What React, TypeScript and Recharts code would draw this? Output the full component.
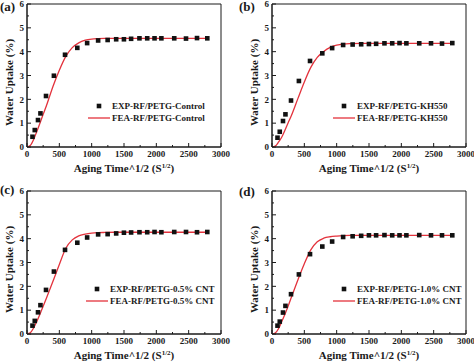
import React from 'react';
import { ComposedChart, Scatter, Line, XAxis, YAxis, ReferenceArea, Legend } from 'recharts';

// sqrt(aging time) of the measured points, s^1/2
const timeSqrt = [85, 120, 170, 208, 294, 416, 588, 778, 930, 1100, 1247, 1379, 1499, 1610, 1739, 1859, 1972, 2078, 2277, 2459, 2629, 2788];

const expControl = [0.43, 0.71, 1.13, 1.41, 2.14, 2.99, 3.87, 4.16, 4.36, 4.47, 4.49, 4.52, 4.52, 4.54, 4.56, 4.56, 4.56, 4.56, 4.56, 4.55, 4.57, 4.56];
const expKH550 = [0.39, 0.64, 1.09, 1.37, 1.95, 2.77, 3.61, 3.93, 4.15, 4.28, 4.3, 4.31, 4.32, 4.33, 4.35, 4.35, 4.36, 4.35, 4.35, 4.35, 4.34, 4.36];
const expCnt05 = [0.35, 0.55, 0.91, 1.21, 1.85, 2.62, 3.53, 3.83, 4.05, 4.18, 4.19, 4.22, 4.25, 4.26, 4.27, 4.27, 4.28, 4.27, 4.28, 4.28, 4.27, 4.28];
const expCnt10 = [0.35, 0.52, 0.9, 1.18, 1.67, 2.5, 3.35, 3.67, 3.88, 4.07, 4.1, 4.12, 4.14, 4.14, 4.15, 4.14, 4.14, 4.14, 4.15, 4.14, 4.14, 4.14];

const fitX = [0, 50, 100, 150, 200, 250, 300, 400, 500, 600, 700, 800, 900, 1000, 1100, 1200, 1400, 1800, 2200, 2600, 2800];
const fitControl = [0, 0.06, 0.3, 0.64, 1.0, 1.37, 1.73, 2.53, 3.22, 3.8, 4.17, 4.37, 4.48, 4.53, 4.55, 4.56, 4.56, 4.56, 4.56, 4.56, 4.56];
const fitKH550 = [0, 0.04, 0.2, 0.41, 0.7, 1.02, 1.32, 2.03, 2.73, 3.34, 3.76, 4.01, 4.18, 4.27, 4.32, 4.34, 4.35, 4.35, 4.35, 4.35, 4.35];
const fitCnt05 = [0, 0.05, 0.24, 0.52, 0.83, 1.16, 1.5, 2.2, 2.92, 3.6, 3.95, 4.12, 4.19, 4.23, 4.25, 4.26, 4.27, 4.27, 4.27, 4.27, 4.27];
const fitCnt10 = [0, 0.04, 0.22, 0.52, 0.83, 1.17, 1.54, 2.27, 2.95, 3.53, 3.87, 4.02, 4.08, 4.11, 4.13, 4.14, 4.14, 4.14, 4.14, 4.14, 4.14];

const xTicks = [0, 250, 500, 750, 1000, 1250, 1500, 1750, 2000, 2250, 2500, 2750, 3000];
const yTicks = [0, 0.5, 1, 1.5, 2, 2.5, 3, 3.5, 4, 4.5, 5, 5.5, 6];

const FONT = '"Liberation Serif", "Times New Roman", serif';
const INK = '#1a1a1a';
const RED = '#e3323c';

const XTick = (props: any) => {
  const { x, y, payload } = props;
  const major = payload.value % 500 === 0;
  const base = y - 3;
  return (
    <g>
      <line x1={x} x2={x} y1={base} y2={base - (major ? 4 : 2)} stroke={INK} />
      {major && (
        <text x={x} y={y} dy="0.75em" textAnchor="middle" fontSize={9} fontWeight="bold" fontFamily={FONT} fill={INK}>
          {payload.value}
        </text>
      )}
    </g>
  );
};

const YTick = (props: any) => {
  const { x, y, payload } = props;
  const major = payload.value % 1 === 0;
  const base = x + 3;
  return (
    <g>
      <line x1={base} x2={base + (major ? 4 : 2)} y1={y} y2={y} stroke={INK} />
      {major && (
        <text x={x} y={y} dy="0.36em" textAnchor="end" fontSize={9} fontWeight="bold" fontFamily={FONT} fill={INK}>
          {payload.value}
        </text>
      )}
    </g>
  );
};

const XTitle = (props: any) => {
  const vb = props.viewBox || {};
  return (
    <text x={vb.x + vb.width / 2} y={vb.y + 25} textAnchor="middle" fontSize={11} fontWeight="bold" fontFamily={FONT} fill={INK}>
      Aging Time^1/2 (S<tspan dy={-4} fontSize={7}>1/2</tspan><tspan dy={4}>)</tspan>
    </text>
  );
};

const YTitle = (props: any) => {
  const vb = props.viewBox || {};
  const cx = vb.x + vb.width - 18;
  const cy = vb.y + vb.height / 2 + 7;
  return (
    <text x={cx} y={cy} transform={`rotate(-90 ${cx} ${cy})`} textAnchor="middle" dominantBaseline="central" fontSize={11} fontWeight="bold" fontFamily={FONT} fill={INK}>
      Water Uptake (%)
    </text>
  );
};

const SquareDot = (props: any) => {
  const { cx, cy } = props;
  if (cx == null || cy == null) return null;
  return <rect x={cx - 2.3} y={cy - 2.3} width={4.6} height={4.6} fill="#111" />;
};

const LegendBox = (props: any) => {
  const { payload } = props;
  return (
    <div style={{ fontFamily: FONT, fontWeight: 'bold', fontSize: 9, color: INK, lineHeight: '12px' }}>
      {(payload || []).map((entry: any) => (
        <div key={entry.value} style={{ display: 'flex', alignItems: 'center', height: 12, whiteSpace: 'nowrap' }}>
          <svg width={22} height={12} style={{ marginRight: 2 }}>
            {entry.type === 'line' ? (
              <line x1={0} x2={22} y1={6} y2={6} stroke={RED} strokeWidth={1.3} />
            ) : (
              <rect x={8.7} y={3.7} width={4.6} height={4.6} fill="#111" />
            )}
          </svg>
          <span>{entry.value}</span>
        </div>
      ))}
    </div>
  );
};

type PanelProps = {
  tag: string;
  exp: number[];
  fit: number[];
  expName: string;
  fitName: string;
  left: number;
  top: number;
  yWidth: number;
  xHeight: number;
  marginTop: number;
  marginRight: number;
  legendLeft: number;
  legendTop: number;
  tagTop: number;
  tagLeft: number;
};

const Panel = (p: PanelProps) => {
  const expData = p.exp.map((y, i) => ({ x: timeSqrt[i], y }));
  const fitData = p.fit.map((y, i) => ({ x: fitX[i], y }));
  return (
    <div style={{ position: 'absolute', left: p.left, top: p.top, width: 237, height: 181 }}>
      <ComposedChart width={237} height={181} margin={{ top: p.marginTop, right: p.marginRight, bottom: 0, left: 0 }}>
        <XAxis
          type="number"
          dataKey="x"
          domain={[0, 3000]}
          ticks={xTicks}
          interval={0}
          allowDataOverflow
          height={p.xHeight}
          tickSize={0}
          tickMargin={3}
          tickLine={false}
          axisLine={{ stroke: INK }}
          tick={<XTick />}
          label={{ content: <XTitle /> }}
        />
        <YAxis
          type="number"
          domain={[0, 6]}
          ticks={yTicks}
          interval={0}
          allowDataOverflow
          width={p.yWidth}
          tickSize={0}
          tickMargin={3}
          tickLine={false}
          axisLine={{ stroke: INK }}
          tick={<YTick />}
          label={{ content: <YTitle /> }}
        />
        <ReferenceArea x1={0} x2={3000} y1={0} y2={6} fill="none" stroke={INK} strokeWidth={1} />
        <Scatter name={p.expName} data={expData} dataKey="y" legendType="square" fill="#111" shape={<SquareDot />} isAnimationActive={false} />
        <Line name={p.fitName} data={fitData} dataKey="y" type="monotone" stroke={RED} strokeWidth={1.3} dot={false} activeDot={false} legendType="line" isAnimationActive={false} />
        <Legend
          layout="vertical"
          align="center"
          verticalAlign="middle"
          content={<LegendBox />}
          wrapperStyle={{ left: p.legendLeft, top: p.legendTop, width: 'auto' }}
        />
      </ComposedChart>
      <div style={{ position: 'absolute', left: p.tagLeft, top: p.tagTop, fontFamily: FONT, fontWeight: 'bold', fontSize: 13, color: INK, lineHeight: '14px' }}>
        {p.tag}
      </div>
    </div>
  );
};

export default function App() {
  return (
    <div style={{ position: 'absolute', left: 0, top: 0, width: 474, height: 362, background: '#fff' }}>
      <Panel tag="(a)" exp={expControl} fit={fitControl} expName="EXP-RF/PETG-Control" fitName="FEA-RF/PETG-Control"
        left={0} top={0} yWidth={27} xHeight={34} marginTop={4} marginRight={16} legendLeft={88} legendTop={100} tagLeft={0} tagTop={0} />
      <Panel tag="(b)" exp={expKH550} fit={fitKH550} expName="EXP-RF/PETG-KH550" fitName="FEA-RF/PETG-KH550"
        left={237} top={0} yWidth={35} xHeight={34} marginTop={4} marginRight={8} legendLeft={96} legendTop={100} tagLeft={2} tagTop={0} />
      <Panel tag="(c)" exp={expCnt05} fit={fitCnt05} expName="EXP-RF/PETG-0.5% CNT" fitName="FEA-RF/PETG-0.5% CNT"
        left={0} top={181} yWidth={27} xHeight={28} marginTop={10} marginRight={16} legendLeft={86} legendTop={102} tagLeft={0} tagTop={2} />
      <Panel tag="(d)" exp={expCnt10} fit={fitCnt10} expName="EXP-RF/PETG-1.0% CNT" fitName="FEA-RF/PETG-1.0% CNT"
        left={237} top={181} yWidth={35} xHeight={28} marginTop={10} marginRight={8} legendLeft={96} legendTop={102} tagLeft={2} tagTop={4} />
    </div>
  );
}
